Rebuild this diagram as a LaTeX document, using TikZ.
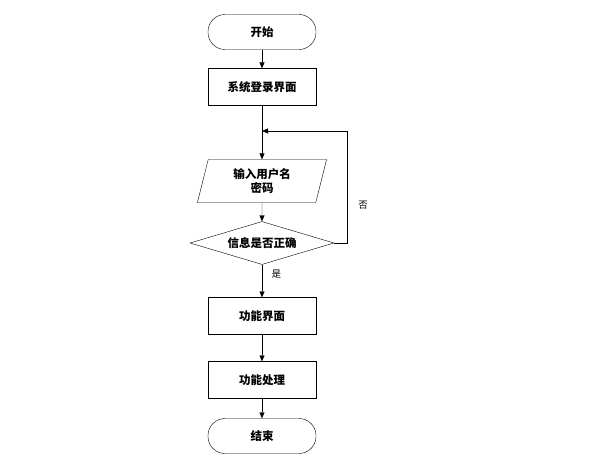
\documentclass[tikz,border=0pt]{standalone}
\usepackage{fontspec}
\newfontfamily\cjk{Noto Sans CJK SC}
\usetikzlibrary{shapes.geometric,arrows.meta}
\begin{document}
\begin{tikzpicture}[x=1pt,y=-1pt,
  every node/.style={font=\cjk\bfseries\fontsize{11.5}{14}\selectfont},
  box/.style={draw,minimum width=108pt,minimum height=37pt,inner sep=0},
  term/.style={box,rounded corners=17pt,minimum height=35pt},
  io/.style={draw,trapezium,trapezium left angle=77,trapezium right angle=103,minimum width=130pt,minimum height=43pt,inner sep=0,align=center,trapezium stretches=true},
  dec/.style={draw,diamond,minimum width=144pt,minimum height=43pt,inner sep=0,aspect=3.3},
  arr/.style={-{Triangle[length=6pt,width=5pt]}},
  lbl/.style={font=\cjk\fontsize{9.5}{11}\selectfont}]
\useasboundingbox (0,0) rectangle (610,460);
\node[term] (start) at (262,32) {开始};
\node[box] (login) at (262,87) {系统登录界面};
\coordinate (j) at (262,131);
\node[io] (input) at (262,181) {输入用户名\\密码};
\node[dec] (check) at (262,243) {信息是否正确};
\node[box] (func) at (262,316) {功能界面};
\node[box] (proc) at (262,380) {功能处理};
\node[term] (end) at (262,436) {结束};
\coordinate (c1) at (347,243);
\coordinate (c2) at (347,131);
\draw[arr] (start) -- (login);
\draw (login) -- (j);
\draw[arr] (j) -- (input);
\draw[arr] (input) -- (check);
\draw[arr] (check) -- node[lbl,pos=0.3,right=6pt] (yes) {是} (func);
\draw[arr] (func) -- (proc);
\draw[arr] (proc) -- (end);
\draw[arr] (check.east) -- (c1) -- (c2) -- (j);
\node[lbl] (no) at (363,205) {否};
\end{tikzpicture}
\end{document}
